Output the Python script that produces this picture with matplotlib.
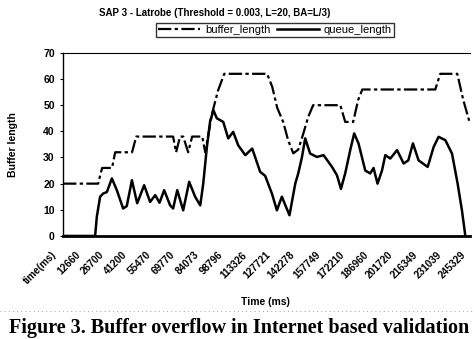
import numpy as np
import matplotlib
matplotlib.use('Agg')
import matplotlib.pyplot as plt
import matplotlib.transforms as mtransforms
from matplotlib.lines import Line2D

plt.rcParams['font.family'] = ['Liberation Sans', 'DejaVu Sans']

# buffer_length (dash-dot): time (ms), length
buf_t = [2300, 23500, 25900, 31900, 33800, 44000, 46500, 68800, 70600, 73000,
         74900, 77900, 80300, 86400, 88200, 92400, 96000, 99700, 125600, 128700,
         131700, 135300, 138300, 141400, 144400, 147400, 150400, 153400, 169800,
         172800, 177600, 180600, 183100, 227200, 230200, 240500, 244100, 247700]
buf_v = [20, 20, 26, 26, 32, 32, 38, 38, 32, 38,
         38, 32, 38, 38, 32, 47, 55.7, 62, 62, 57,
         49, 43.6, 36.6, 31.6, 33, 39, 45.5, 50, 50,
         43.6, 43.6, 52, 56, 56, 62, 62, 52, 44]

# queue_length (solid)
q_t = [2300, 21700, 22700, 24700, 26500, 28800, 31800, 34800, 38600, 40800,
       43900, 47100, 51300, 54900, 58000, 60600, 63400, 67000, 68800, 71300,
       74900, 78500, 82100, 85200, 87000, 89200, 91200, 93200, 95200, 99100,
       102100, 105100, 108100, 112400, 116600, 121400, 124400, 128500, 131500,
       134500, 139100, 142600, 144400, 146600, 148600, 151600, 155700, 159700,
       164800, 167800, 170200, 172800, 175800, 178200, 180800, 184900, 187900,
       189900, 192300, 195000, 197000, 200000, 204100, 208100, 210900, 213700,
       217100, 222600, 226200, 229200, 233300, 237300, 240700, 243300, 245300]
q_v = [0, 0, 7.3, 15, 16.2, 16.8, 22, 17.5, 10.5, 11.4,
       21.3, 12.5, 19.4, 13, 15.6, 12.7, 17.5, 11.7, 10.5, 17.5,
       9.8, 20.7, 15, 11.7, 20, 34, 44, 48, 45, 43.6,
       37.3, 39.8, 34.7, 30.9, 33.4, 24.5, 23, 16.2, 9.8,
       15, 7.9, 20, 23.9, 30, 37.3, 31.5, 30.2, 30.9,
       26.4, 23.2, 18, 24, 32.8, 39.2, 35.4, 25, 23.9,
       26, 20, 25, 30.9, 29.6, 32.8, 27.7, 28.9, 35.4,
       28.9, 26.4, 34, 37.9, 36.6, 31.5, 20, 9.8, 0.3]

tick_t = [-1882, 12660, 26700, 41200, 55470, 69770, 84073, 98796, 113326, 127721,
          142278, 157749, 172210, 186960, 201720, 216349, 231039, 245329]
tick_lab = ['time(ms)', '12660', '26700', '41200', '55470', '69770', '84073', '98796',
            '113326', '127721', '142278', '157749', '172210', '186960', '201720',
            '216349', '231039', '245329']

fig = plt.figure(figsize=(4.74, 3.39), dpi=100)
ax = fig.add_axes([0.133, 0.304, 0.859, 0.54])

ax.plot(buf_t, buf_v, color='black', lw=1.6, linestyle=(0, (6, 1.5, 1.5, 1.5)),
        label='buffer_length')
ax.plot(q_t, q_v, color='black', lw=1.8, label='queue_length')

ax.set_xlim(2300, 248300)
ax.set_ylim(0, 70)
ax.set_yticks(range(0, 71, 10))
for lab in ax.get_yticklabels():
    lab.set_fontweight('bold')
    lab.set_fontsize(7.5)
ax.tick_params(axis='y', length=2, width=0.8, pad=4)
ax.set_xticks([])

ax.spines['right'].set_visible(False)
ax.spines['top'].set_linestyle((0, (2, 1)))
ax.spines['top'].set_linewidth(0.8)
ax.spines['left'].set_linewidth(1.0)
ax.spines['bottom'].set_linewidth(2.0)

# rotated category-style time labels
trans = mtransforms.offset_copy(ax.get_xaxis_transform(), fig=fig, x=1.5, y=-10, units='points')
for t, s in zip(tick_t, tick_lab):
    ax.text(t, 0, s, transform=trans, rotation=45, ha='right', va='top',
            fontsize=7.2, fontweight='bold', clip_on=False)

ax.set_ylabel('Buffer length', fontsize=7.5, fontweight='bold', labelpad=18)
fig.text(0.56, 0.108, 'Time (ms)', ha='center', va='center', fontsize=7.5, fontweight='bold')
fig.text(0.452, 0.962, 'SAP 3 - Latrobe (Threshold = 0.003, L=20, BA=L/3)',
         ha='center', va='center', fontsize=7, fontweight='bold')

leg = fig.legend(loc='center', bbox_to_anchor=(0.58, 0.9115), ncol=2, fontsize=8,
                 frameon=True, fancybox=False, edgecolor='black', handlelength=3.8,
                 borderpad=0.2, columnspacing=0.6, handletextpad=0.4)
leg.get_frame().set_linewidth(1.0)

fig.add_artist(Line2D([0.0, 1.0], [0.083, 0.083], transform=fig.transFigure,
                      color='gray', lw=0.6, linestyle=(0, (1, 4))))
fig.text(0.02, 0.033, 'Figure 3. Buffer overflow in Internet based validation',
         ha='left', va='center', fontsize=14.5, fontweight='bold', family='Liberation Serif')

fig.savefig('out.png', dpi=100)
